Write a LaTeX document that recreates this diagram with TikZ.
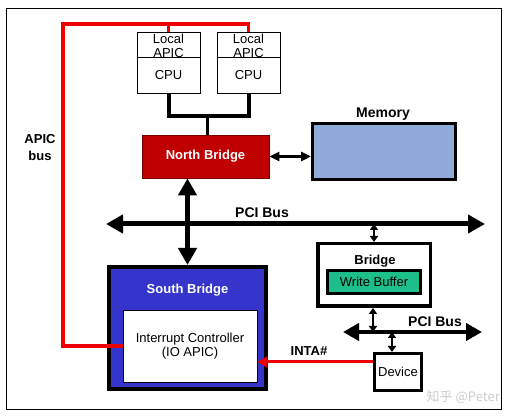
\documentclass[tikz,border=0pt]{standalone}
\usepackage{fontspec}
\setmainfont{Liberation Sans}
\newfontfamily\cjkfont{Noto Sans CJK SC}
\usetikzlibrary{arrows.meta,calc}
\definecolor{nbred}{HTML}{C00000}
\definecolor{memblue}{HTML}{8FAAD6}
\definecolor{sbblue}{HTML}{3535CC}
\definecolor{wbgreen}{HTML}{1CBF8C}
\definecolor{busred}{HTML}{EE0000}

\begin{document}
\begin{tikzpicture}[x=1pt,y=-1pt,
  box/.style={shape=rectangle,draw=black,line width=0.8pt,fill=white,inner sep=0pt,font=\fontsize{13}{14}\selectfont},
  heavybox/.style={box,line width=3pt},
  lbl/.style={inner sep=0pt,font=\fontsize{13}{14}\selectfont\bfseries},
  apicbus/.style={draw=busred,line width=3.5pt},
  fsb/.style={line width=4pt},
  bigbus/.style={line width=5pt,{Triangle[length=17pt,width=18pt]}-{Triangle[length=17pt,width=18pt]}},
  smallbus/.style={line width=2.5pt,{Triangle[length=6pt,width=8pt]}-{Triangle[length=6pt,width=8pt]}},
  membus/.style={line width=2.5pt,{Triangle[length=10pt,width=9pt]}-{Triangle[length=10pt,width=9pt]}},
  intarrow/.style={draw=busred,line width=3pt,-{Triangle[length=10pt,width=11pt]}}]
\def\cpuw{63pt};
\def\cpux{168.5};
\def\dcpu{80};

\useasboundingbox (0,0) rectangle (515,419);
\draw[line width=0.8pt] (6,8) rectangle (501,409);

\node[box,minimum width=\cpuw,minimum height=25pt] (apic1) at (\cpux,44.5) {};
\node[box,minimum width=\cpuw,minimum height=25pt] (apic2) at (\cpux+\dcpu,44.5) {};
\node[inner sep=0pt,anchor=north,align=center,font=\fontsize{13}{14}\selectfont] (apic1t) at ($(apic1.north)+(0,2)$) {Local\\APIC};
\node[inner sep=0pt,anchor=north,align=center,font=\fontsize{13}{14}\selectfont] (apic2t) at ($(apic2.north)+(0,2)$) {Local\\APIC};
\node[box,minimum width=\cpuw,minimum height=36pt] (cpu1) at (\cpux,75) {CPU};
\node[box,minimum width=\cpuw,minimum height=36pt] (cpu2) at (\cpux+\dcpu,75) {CPU};

\node[box,fill=nbred,draw=nbred!60!black,text=white,font=\fontsize{13}{14}\selectfont\bfseries,minimum width=127pt,minimum height=43pt] (nb) at (205.5,156.5) {North Bridge};
\node[heavybox,fill=memblue,minimum width=143pt,minimum height=56pt] (mem) at (384,151.5) {};
\node[lbl,font=\fontsize{14}{15}\selectfont\bfseries] (memlbl) at (383,114) {Memory};

\node[heavybox,fill=sbblue,line width=4pt,minimum width=157pt,minimum height=122pt] (sb) at (187.5,328) {};
\node[lbl,text=white] (sblbl) at (187.5,290) {South Bridge};
\node[box,align=center,minimum width=134pt,minimum height=72pt] (ic) at (190,346) {Interrupt Controller\\(IO APIC)};

\node[heavybox,line width=3.5pt,minimum width=112.5pt,minimum height=62.5pt] (br) at (374,275) {};
\node[lbl] (brlbl) at (375,261) {Bridge};
\node[heavybox,fill=wbgreen,minimum width=93pt,minimum height=23pt] (wb) at (374,282) {Write Buffer};
\node[heavybox,minimum width=47pt,minimum height=37pt] (dev) at (398,372) {Device};

\coordinate (pciL) at (106,224);
\coordinate (pciR) at (485,224);
\coordinate (pcibL) at (343,332);
\coordinate (pcibR) at (482,332);
\coordinate (bustop) at (63,24);
\coordinate (fsbmid) at (207,116);

\draw[apicbus] (ic.west) -| (bustop) -| (apic2.north);
\draw[apicbus] (apic1.north |- bustop) -- (apic1.north);
\node[lbl,align=center,font=\fontsize{13}{17}\selectfont\bfseries] (apiclbl) at (40,148) {APIC\\bus};

\draw[fsb] (cpu1.south) |- (cpu2.south |- fsbmid) -- (cpu2.south);
\draw[line width=3pt] (fsbmid) -- (fsbmid |- nb.north);
\draw[membus] (nb.east) -- (nb.east -| mem.west);

\draw[bigbus] (pciL) -- (pciR);
\node[lbl,font=\fontsize{14}{15}\selectfont\bfseries] (pcilbl) at (262,213) {PCI Bus};
\draw[bigbus] (nb.south -| sb.north) -- (sb.north);
\draw[smallbus] (br.north) -- (br.north |- pciL);

\draw[line width=4pt,{Triangle[length=16pt,width=17pt]}-{Triangle[length=16pt,width=17pt]}] (pcibL) -- (pcibR);
\node[lbl,font=\fontsize{14}{15}\selectfont\bfseries] (pcilbl2) at (435,322) {PCI Bus};
\draw[smallbus] (br.south -| 373,0) -- (pcibL -| 373,0);
\draw[smallbus] ($(dev.north)+(-6,0)$) -- ($(dev.north |- pcibL)+(-6,0)$);

\draw[intarrow] ($(dev.west)+(0,-10)$) -- ($(dev.west -| ic.east)+(0,-10)$);
\node[lbl] (intalbl) at (309,351) {INTA\#};

\node[inner sep=0pt,anchor=east,text=gray!40,font=\cjkfont\fontsize{13}{13}\selectfont] (wm) at (500,397) {知乎 @Peter};
\end{tikzpicture}
\end{document}
